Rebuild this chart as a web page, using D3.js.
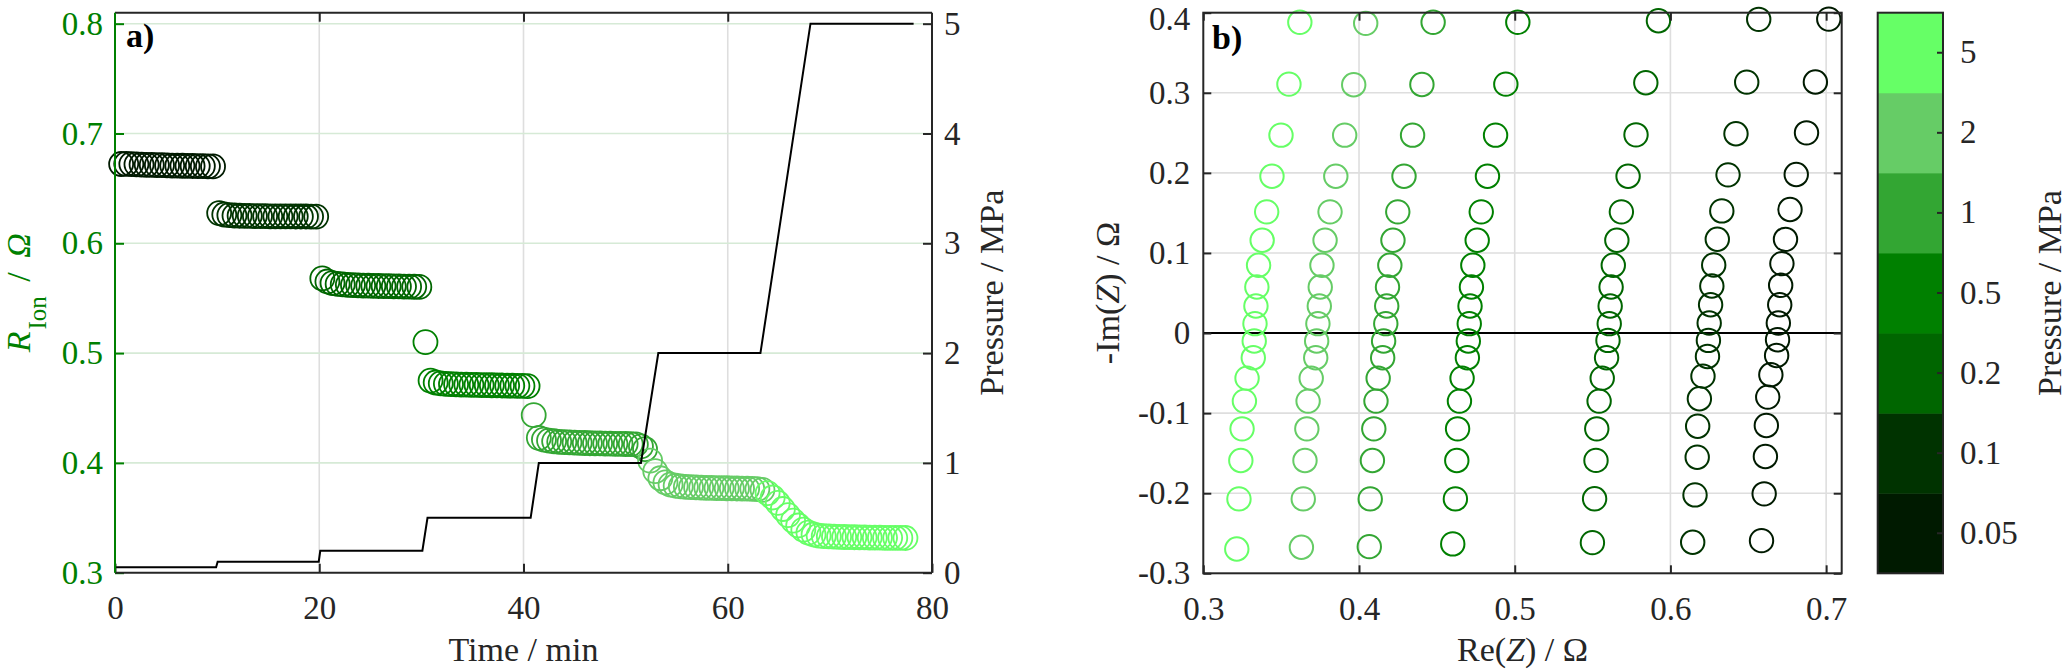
<!DOCTYPE html>
<html><head><meta charset="utf-8">
<script src="https://cdn.jsdelivr.net/npm/d3@7"></script>
<style>
html,body{margin:0;padding:0;background:#fff;}
svg{display:block;font-family:"Liberation Serif","Times New Roman",serif;}
</style></head><body>
<svg id="chart" width="2070" height="671"></svg>
<script>
// ---------------- DATA ----------------
const timeTicks = [0, 20, 40, 60, 80];
const rIonTicks = [0.3, 0.4, 0.5, 0.6, 0.7, 0.8];
const pressureTicks = [0, 1, 2, 3, 4, 5];
const reTicks = [0.3, 0.4, 0.5, 0.6, 0.7];
const imTicks = [-0.3, -0.2, -0.1, 0, 0.1, 0.2, 0.3, 0.4];
const pressureLevels = ["0.05", "0.1", "0.2", "0.5", "1", "2", "5"];
const levelColors = ["#001a00", "#003300", "#006600", "#008000", "#33a633", "#66cc66", "#66ff66"];

// panel a: [time / min, R_Ion / Ohm] per pressure stage
const rIon005 = [[0.6,0.6722],[1.1,0.6724],[1.6,0.6721],[2.1,0.6719],[2.6,0.6717],[3.1,0.6715],[3.6,0.6714],[4.1,0.6712],[4.6,0.6711],[5.1,0.6709],[5.6,0.6708],[6.1,0.6707],[6.6,0.6706],[7.1,0.6705],[7.6,0.6704],[8.1,0.6703],[8.6,0.6702],[9.1,0.6701],[9.6,0.6700]];
const rIon01 = [[10.2,0.6275],[10.7,0.6262],[11.2,0.6256],[11.7,0.6253],[12.2,0.6251],[12.7,0.6250],[13.2,0.6249],[13.7,0.6248],[14.2,0.6247],[14.7,0.6247],[15.2,0.6246],[15.7,0.6246],[16.2,0.6245],[16.7,0.6245],[17.2,0.6245],[17.7,0.6244],[18.2,0.6244],[18.7,0.6244],[19.2,0.6243],[19.7,0.6243]];
const rIon02 = [[20.3,0.5680],[20.8,0.5652],[21.3,0.5638],[21.8,0.5630],[22.3,0.5625],[22.8,0.5622],[23.3,0.5619],[23.8,0.5617],[24.3,0.5615],[24.8,0.5614],[25.3,0.5612],[25.8,0.5611],[26.3,0.5610],[26.8,0.5609],[27.3,0.5608],[27.8,0.5607],[28.3,0.5606],[28.8,0.5605],[29.3,0.5604],[29.8,0.5603]];
const rIon05 = [[30.4,0.5100],[30.9,0.4750],[31.4,0.4732],[31.9,0.4724],[32.4,0.4720],[32.9,0.4717],[33.4,0.4715],[33.9,0.4713],[34.4,0.4712],[34.9,0.4711],[35.4,0.4710],[35.9,0.4709],[36.4,0.4708],[36.9,0.4707],[37.4,0.4706],[37.9,0.4705],[38.4,0.4704],[38.9,0.4703],[39.4,0.4702],[39.9,0.4701],[40.4,0.4700]];
const rIon1 = [[41.0,0.4435],[41.5,0.4228],[42.0,0.4212],[42.5,0.4203],[43.0,0.4197],[43.5,0.4192],[44.0,0.4189],[44.5,0.4186],[45.0,0.4184],[45.5,0.4182],[46.0,0.4181],[46.5,0.4179],[47.0,0.4178],[47.5,0.4177],[48.0,0.4176],[48.5,0.4175],[49.0,0.4174],[49.5,0.4173],[50.0,0.4172],[50.5,0.4171],[51.0,0.4168],[51.5,0.4150],[51.9,0.4125]];
const rIon2 = [[52.4,0.4020],[52.9,0.3925],[53.4,0.3860],[53.9,0.3822],[54.4,0.3803],[54.9,0.3792],[55.4,0.3786],[55.9,0.3782],[56.4,0.3779],[56.9,0.3777],[57.4,0.3775],[57.9,0.3773],[58.4,0.3772],[58.9,0.3771],[59.4,0.3770],[59.9,0.3769],[60.4,0.3768],[60.9,0.3767],[61.4,0.3766],[61.9,0.3765],[62.4,0.3764],[62.9,0.3762],[63.4,0.3755]];
const rIon5 = [[63.9,0.3725],[64.4,0.3685],[64.9,0.3635],[65.4,0.3580],[65.9,0.3525],[66.4,0.3475],[66.9,0.3430],[67.4,0.3392],[67.9,0.3365],[68.4,0.3348],[68.9,0.3338],[69.4,0.3333],[69.9,0.3330],[70.4,0.3328],[70.9,0.3326],[71.4,0.3325],[71.9,0.3324],[72.4,0.3323],[72.9,0.3322],[73.4,0.3321],[73.9,0.3320],[74.4,0.3319],[74.9,0.3319],[75.4,0.3318],[75.9,0.3318],[76.4,0.3317],[76.9,0.3317],[77.4,0.3316]];

// panel a: pressure profile [time / min, pressure / MPa]
const pressureLine = [[0,0.05],[9.9,0.05],[10.05,0.1],[19.95,0.1],[20.1,0.2],[30.1,0.2],[30.6,0.5],[40.7,0.5],[41.5,1],[51.5,1],[53.2,2],[63.2,2],[68.1,5],[78.2,5]];

// panel b: Nyquist data per pressure stage
const reZ005 = [0.7017,0.6931,0.6874,0.6808,0.6768,0.6739,0.6716,0.6708,0.6702,0.6693,0.6688,0.6682,0.6645,0.6625,0.6616,0.6610,0.6602,0.6585];
const imZ005 = [0.3920,0.3135,0.2500,0.1979,0.1542,0.1170,0.0867,0.0596,0.0354,0.0125,-0.0083,-0.0280,-0.0521,-0.0800,-0.1154,-0.1542,-0.2008,-0.2592];
const reZ01 = [0.6567,0.6490,0.6421,0.6370,0.6330,0.6301,0.6278,0.6266,0.6258,0.6249,0.6244,0.6238,0.6209,0.6186,0.6175,0.6172,0.6158,0.6143];
const imZ01 = [0.3917,0.3133,0.2488,0.1975,0.1525,0.1171,0.0850,0.0588,0.0354,0.0125,-0.0092,-0.0292,-0.0538,-0.0821,-0.1163,-0.1550,-0.2021,-0.2613];
const reZ02 = [0.5923,0.5842,0.5779,0.5728,0.5685,0.5656,0.5633,0.5619,0.5613,0.5607,0.5599,0.5590,0.5562,0.5542,0.5527,0.5522,0.5513,0.5499];
const imZ02 = [0.3900,0.3125,0.2475,0.1958,0.1513,0.1158,0.0846,0.0575,0.0338,0.0117,-0.0092,-0.0308,-0.0563,-0.0850,-0.1196,-0.1590,-0.2070,-0.2617];
const reZ05 = [0.5020,0.4943,0.4877,0.4825,0.4785,0.4759,0.4731,0.4722,0.4713,0.4708,0.4702,0.4696,0.4662,0.4645,0.4633,0.4628,0.4619,0.4602];
const imZ05 = [0.3880,0.3108,0.2471,0.1958,0.1513,0.1158,0.0846,0.0575,0.0338,0.0117,-0.0100,-0.0308,-0.0563,-0.0850,-0.1196,-0.1592,-0.2071,-0.2633];
const reZ1 = [0.4476,0.4404,0.4344,0.4289,0.4249,0.4218,0.4198,0.4183,0.4178,0.4172,0.4158,0.4152,0.4123,0.4109,0.4095,0.4086,0.4072,0.4066];
const imZ1 = [0.3880,0.3104,0.2471,0.1958,0.1513,0.1158,0.0846,0.0575,0.0338,0.0117,-0.0100,-0.0308,-0.0563,-0.0850,-0.1196,-0.1592,-0.2071,-0.2667];
const reZ2 = [0.4043,0.3966,0.3908,0.3851,0.3814,0.3782,0.3762,0.3751,0.3745,0.3736,0.3728,0.3722,0.3693,0.3673,0.3665,0.3653,0.3642,0.3630];
const imZ2 = [0.3867,0.3100,0.2471,0.1958,0.1513,0.1158,0.0846,0.0575,0.0338,0.0117,-0.0100,-0.0308,-0.0563,-0.0850,-0.1196,-0.1592,-0.2071,-0.2675];
const reZ5 = [0.3620,0.3550,0.3499,0.3441,0.3407,0.3378,0.3355,0.3344,0.3338,0.3332,0.3327,0.3321,0.3281,0.3264,0.3249,0.3241,0.3229,0.3215];
const imZ5 = [0.3880,0.3108,0.2471,0.1958,0.1513,0.1158,0.0846,0.0575,0.0338,0.0117,-0.0100,-0.0308,-0.0563,-0.0850,-0.1196,-0.1592,-0.2071,-0.2696];

// ---------------- DRAWING ----------------
const svg = d3.select("#chart");
svg.append("rect").attr("width", 2070).attr("height", 671).attr("fill", "#fff");

const AX = "#262626", GREEN = "#008000";
const FS = 33, LFS = 34;

function styleAxis(sel, color, labels) {
  sel.select(".domain").remove();
  sel.attr("font-family", null).attr("font-size", null);
  sel.selectAll(".tick line").attr("stroke", color).attr("stroke-width", 2);
  sel.selectAll(".tick text").attr("fill", color).attr("font-size", FS);
  if (labels === false) sel.selectAll(".tick text").remove();
}
const numFmt = d => d === 0 ? "0" : d3.format(".1f")(d).replace("\u2212", "-");

// ===== Panel a =====
const A = {left: 115, right: 932, top: 12.7, bottom: 572.7};
const xA = d3.scaleLinear().domain([0, 80]).range([A.left, A.right]);
const yA = d3.scaleLinear().domain([0.3, 0.81]).range([A.bottom, A.top]);
const yP = d3.scaleLinear().domain([0, 5.1]).range([A.bottom, A.top]);
const gA = svg.append("g");

// grid
gA.append("g").selectAll("line").data(timeTicks.slice(1, -1)).join("line")
  .attr("x1", d => xA(d)).attr("x2", d => xA(d)).attr("y1", A.top).attr("y2", A.bottom)
  .attr("stroke", "#dedede").attr("stroke-width", 1.6);
gA.append("g").selectAll("line").data(rIonTicks.slice(1)).join("line")
  .attr("x1", A.left).attr("x2", A.right).attr("y1", d => yA(d)).attr("y2", d => yA(d))
  .attr("stroke", "#d6ead6").attr("stroke-width", 1.6);

// scatter
const stagesA = [rIon005, rIon01, rIon02, rIon05, rIon1, rIon2, rIon5];
stagesA.forEach((arr, i) => {
  gA.append("g").selectAll("circle").data(arr).join("circle")
    .attr("cx", d => xA(d[0])).attr("cy", d => yA(d[1])).attr("r", 12)
    .attr("fill", "none").attr("stroke", levelColors[i]).attr("stroke-width", 1.8);
});

// pressure line
gA.append("path").datum(pressureLine)
  .attr("d", d3.line().x(d => xA(d[0])).y(d => yP(d[1])))
  .attr("fill", "none").attr("stroke", "#000").attr("stroke-width", 2);

// axes
gA.append("g").attr("transform", `translate(0,${A.bottom})`)
  .call(d3.axisBottom(xA).tickValues(timeTicks).tickSize(-9).tickPadding(23).tickFormat(d3.format("d")))
  .call(s => styleAxis(s, AX));
gA.append("g").attr("transform", `translate(0,${A.top})`)
  .call(d3.axisTop(xA).tickValues(timeTicks.slice(1, -1)).tickSize(-9))
  .call(s => styleAxis(s, AX, false));
gA.append("g").attr("transform", `translate(${A.left},0)`)
  .call(d3.axisLeft(yA).tickValues(rIonTicks).tickSize(-9).tickPadding(12).tickFormat(d3.format(".1f")))
  .call(s => styleAxis(s, GREEN));
gA.append("g").attr("transform", `translate(${A.right},0)`)
  .call(d3.axisRight(yP).tickValues(pressureTicks).tickSize(-9).tickPadding(12).tickFormat(d3.format("d")))
  .call(s => styleAxis(s, AX));

// box
gA.append("line").attr("x1", A.left).attr("x2", A.right).attr("y1", A.top).attr("y2", A.top).attr("stroke", AX).attr("stroke-width", 2);
gA.append("line").attr("x1", A.left).attr("x2", A.right).attr("y1", A.bottom).attr("y2", A.bottom).attr("stroke", AX).attr("stroke-width", 2);
gA.append("line").attr("x1", A.right).attr("x2", A.right).attr("y1", A.top).attr("y2", A.bottom).attr("stroke", AX).attr("stroke-width", 2);
gA.append("line").attr("x1", A.left).attr("x2", A.left).attr("y1", A.top).attr("y2", A.bottom).attr("stroke", GREEN).attr("stroke-width", 2);

// labels
gA.append("text").attr("x", 126).attr("y", 47).attr("font-size", LFS).attr("font-weight", "bold").attr("fill", "#000").text("a)");
gA.append("text").attr("x", (A.left + A.right) / 2).attr("y", 661).attr("text-anchor", "middle")
  .attr("font-size", LFS).attr("fill", AX).text("Time / min");
{
  const t = gA.append("text").attr("transform", `translate(30,${(A.top + A.bottom) / 2}) rotate(-90)`)
    .attr("text-anchor", "middle").attr("font-size", LFS).attr("fill", GREEN);
  t.append("tspan").attr("font-style", "italic").text("R");
  t.append("tspan").attr("font-size", 25).attr("dx", 2).attr("dy", 16).text("Ion");
  t.append("tspan").attr("dy", -16).attr("dx", 6).text(" / ");
  t.append("tspan").attr("dx", 6).attr("font-style", "italic").text("\u03A9");
}
gA.append("text").attr("transform", `translate(1003,${(A.top + A.bottom) / 2}) rotate(-90)`)
  .attr("text-anchor", "middle").attr("font-size", LFS).attr("fill", AX).text("Pressure / MPa");

// ===== Panel b =====
const B = {left: 1203.3, right: 1841.7, top: 12.7, bottom: 573.3};
const xB = d3.scaleLinear().domain([0.3, 0.71]).range([B.left, B.right]);
const yB = d3.scaleLinear().domain([-0.3, 0.4]).range([B.bottom, B.top]);
const gB = svg.append("g");

gB.append("g").selectAll("line").data(reTicks.slice(1)).join("line")
  .attr("x1", d => xB(d)).attr("x2", d => xB(d)).attr("y1", B.top).attr("y2", B.bottom)
  .attr("stroke", "#dedede").attr("stroke-width", 1.6);
gB.append("g").selectAll("line").data(imTicks.slice(1, -1).filter(d => d !== 0)).join("line")
  .attr("x1", B.left).attr("x2", B.right).attr("y1", d => yB(d)).attr("y2", d => yB(d))
  .attr("stroke", "#dedede").attr("stroke-width", 1.6);

// zero line
gB.append("line").attr("x1", xB(0.3)).attr("x2", xB(0.71)).attr("y1", yB(0)).attr("y2", yB(0))
  .attr("stroke", "#000").attr("stroke-width", 2);

const seriesB = [[reZ005, imZ005], [reZ01, imZ01], [reZ02, imZ02], [reZ05, imZ05], [reZ1, imZ1], [reZ2, imZ2], [reZ5, imZ5]];
seriesB.forEach(([re, im], i) => {
  gB.append("g").selectAll("circle").data(re.map((r, k) => [r, im[k]])).join("circle")
    .attr("cx", d => xB(d[0])).attr("cy", d => yB(d[1])).attr("r", 11.7)
    .attr("fill", "none").attr("stroke", levelColors[i]).attr("stroke-width", 2);
});

gB.append("g").attr("transform", `translate(0,${B.bottom})`)
  .call(d3.axisBottom(xB).tickValues(reTicks).tickSize(-8).tickPadding(23).tickFormat(d3.format(".1f")))
  .call(s => styleAxis(s, AX));
gB.append("g").attr("transform", `translate(0,${B.top})`)
  .call(d3.axisTop(xB).tickValues(reTicks).tickSize(-8))
  .call(s => styleAxis(s, AX, false));
gB.append("g").attr("transform", `translate(${B.left},0)`)
  .call(d3.axisLeft(yB).tickValues(imTicks).tickSize(-8).tickPadding(13).tickFormat(numFmt))
  .call(s => styleAxis(s, AX))
  .call(s => s.selectAll(".tick text").filter(d => d === 0.4).attr("dy", "0.5em"));
gB.append("g").attr("transform", `translate(${B.right},0)`)
  .call(d3.axisRight(yB).tickValues(imTicks).tickSize(-8))
  .call(s => styleAxis(s, AX, false));
gB.append("rect").attr("x", B.left).attr("y", B.top).attr("width", B.right - B.left).attr("height", B.bottom - B.top)
  .attr("fill", "none").attr("stroke", AX).attr("stroke-width", 2);

gB.append("text").attr("x", 1212).attr("y", 49).attr("font-size", LFS).attr("font-weight", "bold").attr("fill", "#000").text("b)");
{
  const t = gB.append("text").attr("x", (B.left + B.right) / 2).attr("y", 661).attr("text-anchor", "middle")
    .attr("font-size", LFS).attr("fill", AX);
  t.append("tspan").text("Re(");
  t.append("tspan").attr("font-style", "italic").text("Z");
  t.append("tspan").text(") / \u03A9");
}
{
  const t = gB.append("text").attr("transform", `translate(1119,${(B.top + B.bottom) / 2}) rotate(-90)`)
    .attr("text-anchor", "middle").attr("font-size", LFS).attr("fill", AX);
  t.append("tspan").text("-Im(");
  t.append("tspan").attr("font-style", "italic").text("Z");
  t.append("tspan").text(") / \u03A9");
}

// ===== Colorbar =====
const C = {left: 1877.7, right: 1943, top: 12.7, bottom: 573.3};
const yC = d3.scaleBand().domain(pressureLevels.slice().reverse()).range([C.top, C.bottom]).padding(0);
const colorOf = d3.scaleOrdinal().domain(pressureLevels).range(levelColors);
const gC = svg.append("g");
gC.selectAll("rect").data(pressureLevels).join("rect")
  .attr("x", C.left).attr("width", C.right - C.left)
  .attr("y", d => yC(d)).attr("height", yC.bandwidth() + 0.5)
  .attr("fill", d => colorOf(d));
gC.append("g").attr("transform", `translate(${C.right},0)`)
  .call(d3.axisRight(yC).tickSize(-6).tickPadding(17))
  .call(s => styleAxis(s, AX));
gC.append("rect").attr("x", C.left).attr("y", C.top).attr("width", C.right - C.left).attr("height", C.bottom - C.top)
  .attr("fill", "none").attr("stroke", AX).attr("stroke-width", 2);
gC.append("text").attr("transform", `translate(2061,${(C.top + C.bottom) / 2}) rotate(-90)`)
  .attr("text-anchor", "middle").attr("font-size", LFS).attr("fill", AX).text("Pressure / MPa");
</script></body></html>
